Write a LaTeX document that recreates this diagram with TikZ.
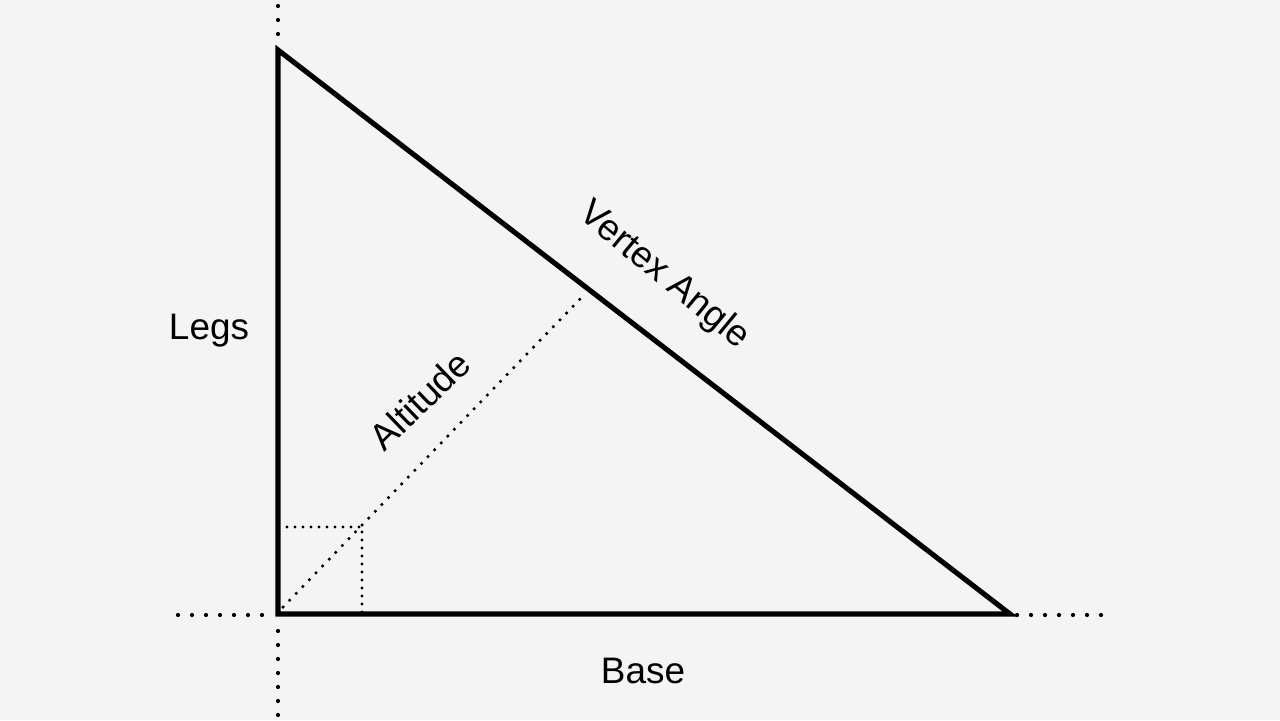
\documentclass[tikz,border=0pt]{standalone}
\usepackage{fontspec}
\setmainfont{Liberation Sans}
\begin{document}
\begin{tikzpicture}[x=0.02cm,y=-0.02cm,
  side/.style={line width=2.9pt,line join=miter},
  guide/.style={line width=2.4pt,line cap=round,dash pattern=on 0pt off 0.28cm},
  fine/.style={line width=1.8pt,line cap=round,dash pattern=on 0pt off 0.16cm},
  alt/.style={line width=2.0pt,line cap=round,dash pattern=on 0pt off 0.19cm},
  lbl/.style={font=\fontsize{21}{25}\selectfont,inner sep=0pt}]
\fill[fill={rgb,255:red,244;green,244;blue,244}] (0,0) rectangle (1280,720);
\useasboundingbox (0,0) rectangle (1280,720);
\coordinate (A) at (278,50);
\coordinate (B) at (278,614);
\coordinate (C) at (1010,614);
\coordinate (T1) at (278,6);
\coordinate (T2) at (278,40);
\coordinate (D1) at (278,631);
\coordinate (D2) at (278,720);
\coordinate (L1) at (178,615);
\coordinate (L2) at (263,615);
\coordinate (R1) at (1017,615);
\coordinate (R2) at (1103,615);
\coordinate (S1) at (287,527);
\coordinate (S2) at (362,527);
\coordinate (S3) at (362,612);
\coordinate (H0) at (283,607);
\coordinate (H1) at (580,299);
% guides
\draw[guide] (T1) -- (T2);
\draw[guide] (D1) -- (D2);
\draw[guide] (L1) -- (L2);
\draw[guide] (R1) -- (R2);
% right-angle square and altitude
\draw[fine] (S1) -- (S2) -- (S3);
\draw[alt] (H0) -- (H1);
% triangle
\draw[side] (A) -- (B) -- (C) -- cycle;
% labels
\node[lbl] (legs) at (209,331) {Legs};
\node[lbl] (base) at (643,671) {Base};
\node[lbl,rotate=44] (altitude) at (420,400) {Altitude};
\node[lbl,rotate=-39.5] (vertex) at (664,276) {Vertex Angle};
\end{tikzpicture}
\end{document}
